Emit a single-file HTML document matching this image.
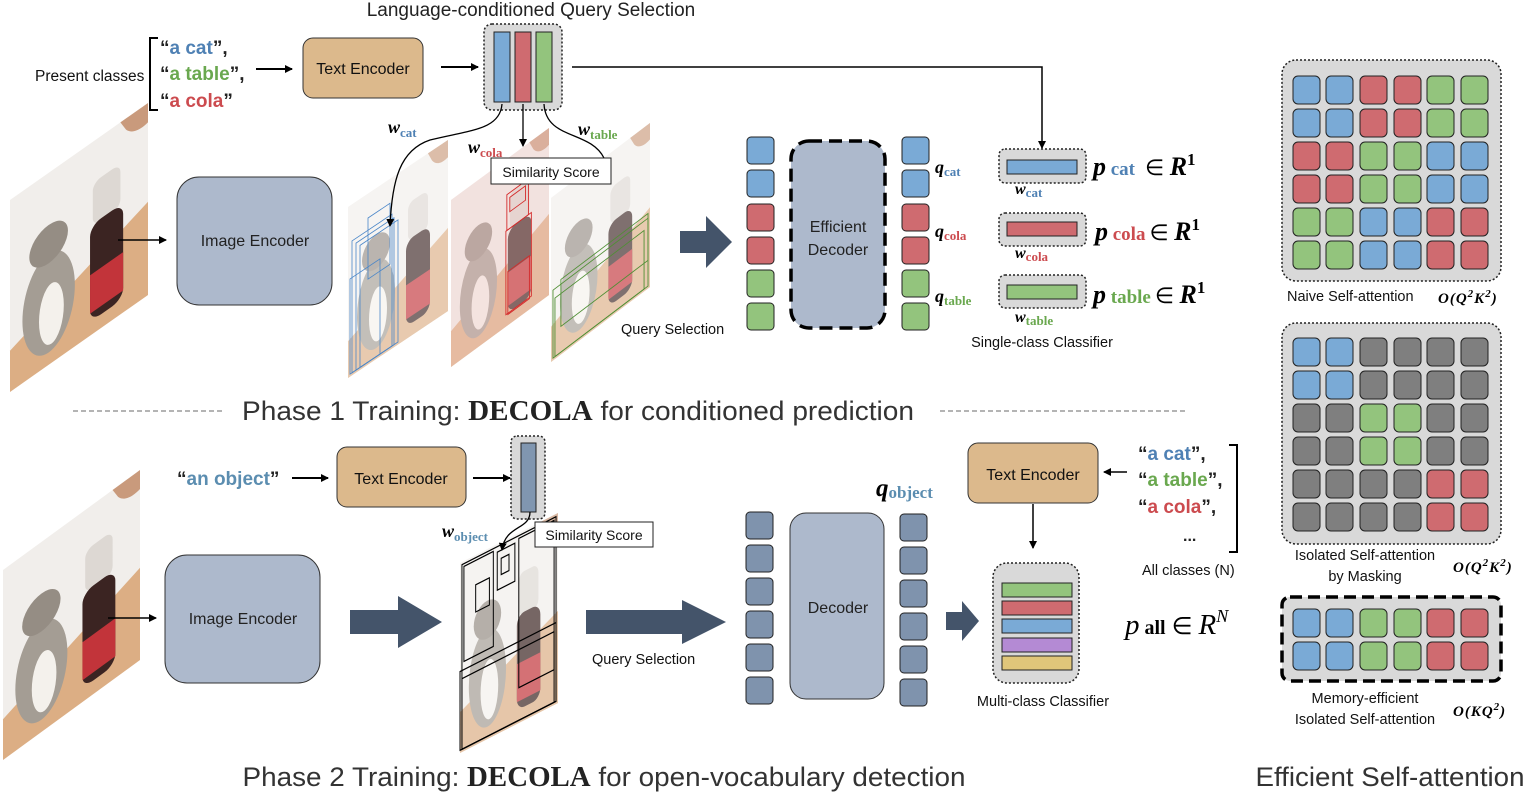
<!DOCTYPE html>
<html><head><meta charset="utf-8"><style>
html,body{margin:0;padding:0;background:#fff;}
svg{display:block;font-family:"Liberation Sans",sans-serif;}
.s{font-family:"Liberation Serif",serif;font-weight:bold;}
</style></head><body>
<svg width="1527" height="793" viewBox="0 0 1527 793" xmlns="http://www.w3.org/2000/svg">
<defs>
<marker id="ar" markerWidth="8" markerHeight="8" refX="7" refY="4" orient="auto" markerUnits="userSpaceOnUse"><path d="M0,0 L8,4 L0,8 z" fill="#000"/></marker>
<g id="photo">
<rect x="0" y="0" width="100" height="140" fill="#f1eeeb"/>
<polygon points="0,110 100,72 100,140 0,140" fill="#dcae84"/>
<path d="M80,0 L100,0 L100,14 C94,16 88,14 84,8 z" fill="#c99a7c"/>
<ellipse cx="28" cy="95" rx="19" ry="36" fill="#a49d94"/>
<ellipse cx="30" cy="104" rx="9" ry="22" fill="#f4f1ec"/>
<circle cx="28" cy="52" r="14" fill="#958d84"/>
<rect x="60" y="30" width="20" height="32" rx="6" fill="#ddd8d3"/>
<rect x="58" y="60" width="24" height="70" rx="8" fill="#3b2422"/>
<rect x="58" y="96" width="24" height="28" fill="#c2343a"/>
</g>
</defs>

<text x="531" y="16" font-size="19" text-anchor="middle" fill="#222">Language-conditioned Query Selection</text>

<text x="35" y="81" font-size="15.5" fill="#111">Present classes</text>
<path d="M158,38 L150,38 L150,110 L158,110" fill="none" stroke="#000" stroke-width="2"/>
<text x="160" y="54" font-size="19" font-weight="bold"><tspan fill="#222">“</tspan><tspan fill="#4f81b4">a cat</tspan><tspan fill="#222">”,</tspan></text>
<text x="160" y="80" font-size="19" font-weight="bold"><tspan fill="#222">“</tspan><tspan fill="#6aa84f">a table</tspan><tspan fill="#222">”,</tspan></text>
<text x="160" y="107" font-size="19" font-weight="bold"><tspan fill="#222">“</tspan><tspan fill="#cc4b4f">a cola</tspan><tspan fill="#222">”</tspan></text>
<line x1="256" y1="69" x2="292" y2="69" stroke="#000" stroke-width="2" marker-end="url(#ar)"/>
<rect x="303" y="38" width="120" height="60" rx="10" fill="#dcb98c" stroke="#333" stroke-width="1"/>
<text x="363" y="74" font-size="16" text-anchor="middle" fill="#111">Text Encoder</text>
<line x1="441" y1="67" x2="478" y2="67" stroke="#000" stroke-width="2" marker-end="url(#ar)"/>
<rect x="484" y="24" width="78" height="86" rx="8" fill="#d9d9d9" stroke="#222" stroke-width="1.5" stroke-dasharray="2,2"/>
<rect x="494" y="32" width="16" height="70" fill="#7aaad6" stroke="#222"/>
<rect x="515" y="32" width="16" height="70" fill="#cf6b70" stroke="#222"/>
<rect x="536" y="32" width="16" height="70" fill="#93c47d" stroke="#222"/>
<polyline points="572,67 1042,67 1042,148" fill="none" stroke="#000" stroke-width="1.5" marker-end="url(#ar)"/>

<use href="#photo" transform="matrix(1.38,-0.97,0,1.371,10,200)"/>
<line x1="118" y1="240" x2="166" y2="240" stroke="#000" stroke-width="1.5" marker-end="url(#ar)"/>
<rect x="177" y="177" width="155" height="128" rx="22" fill="#adb9cc" stroke="#333" stroke-width="1"/>
<text x="255" y="246" font-size="16" text-anchor="middle" fill="#222">Image Encoder</text>

<use href="#photo" transform="matrix(1,-0.67,0,1.221,348,207)"/>
<polygon points="348,207 448,140 448,311 348,378" fill="#fff" opacity="0.35"/>
<g transform="matrix(1,-0.67,0,1.221,348,207)" fill="none" stroke="#4a86c8" stroke-width="0.8">
<rect x="4" y="30" width="40" height="108"/><rect x="8" y="34" width="38" height="104"/><rect x="12" y="38" width="38" height="100"/><rect x="20" y="20" width="22" height="50"/><rect x="2" y="60" width="30" height="78"/>
</g>
<use href="#photo" transform="matrix(0.98,-0.72,0,1.193,451,200)"/>
<polygon points="451,200 549,128 549,295 451,367" fill="#f4d0cc" opacity="0.4"/>
<g transform="matrix(0.98,-0.72,0,1.193,451,200)" fill="none" stroke="#d42a2a" stroke-width="0.9">
<rect x="56" y="60" width="26" height="70"/><rect x="58" y="95" width="22" height="36"/><rect x="57" y="30" width="22" height="30"/><rect x="60" y="34" width="16" height="12"/>
</g>
<use href="#photo" transform="matrix(0.99,-0.75,0,1.171,551,198)"/>
<polygon points="551,198 650,123 650,287 551,362" fill="#fff" opacity="0.35"/>
<g transform="matrix(0.99,-0.75,0,1.171,551,198)" fill="none" stroke="#4f8f34" stroke-width="0.9">
<rect x="2" y="80" width="96" height="58"/><rect x="4" y="88" width="90" height="50"/><rect x="10" y="76" width="88" height="40"/>
</g>

<path d="M502,104 C500,130 470,130 430,140 C400,150 392,180 390,226" fill="none" stroke="#000" stroke-width="1.3" marker-end="url(#ar)"/>
<line x1="523" y1="104" x2="523" y2="146" stroke="#000" stroke-width="1.3" marker-end="url(#ar)"/>
<path d="M544,104 C546,140 590,130 604,158" fill="none" stroke="#000" stroke-width="1.3"/>
<text x="388" y="133" class="s" font-size="18" font-style="italic">w<tspan font-size="13" fill="#4f81b4" font-style="normal" dy="4">cat</tspan></text>
<text x="468" y="153" class="s" font-size="18" font-style="italic">w<tspan font-size="13" fill="#cc4b4f" font-style="normal" dy="4">cola</tspan></text>
<text x="578" y="135" class="s" font-size="18" font-style="italic">w<tspan font-size="13" fill="#6aa84f" font-style="normal" dy="4">table</tspan></text>
<rect x="491" y="158" width="120" height="26" fill="#fff" stroke="#222"/>
<text x="551" y="177" font-size="14" text-anchor="middle" fill="#111">Similarity Score</text>

<text x="621" y="334" font-size="14.5" fill="#111">Query Selection</text>
<polygon points="680,231 706,231 706,216 732,242 706,268 706,253 680,253" fill="#44546a"/>

<g stroke="#222" stroke-width="1">
<rect x="747" y="137" width="27" height="27" rx="4" fill="#7aaad6"/>
<rect x="747" y="170" width="27" height="27" rx="4" fill="#7aaad6"/>
<rect x="747" y="204" width="27" height="27" rx="4" fill="#cf6b70"/>
<rect x="747" y="237" width="27" height="27" rx="4" fill="#cf6b70"/>
<rect x="747" y="270" width="27" height="27" rx="4" fill="#93c47d"/>
<rect x="747" y="303" width="27" height="27" rx="4" fill="#93c47d"/>
<rect x="902" y="137" width="27" height="27" rx="4" fill="#7aaad6"/>
<rect x="902" y="170" width="27" height="27" rx="4" fill="#7aaad6"/>
<rect x="902" y="204" width="27" height="27" rx="4" fill="#cf6b70"/>
<rect x="902" y="237" width="27" height="27" rx="4" fill="#cf6b70"/>
<rect x="902" y="270" width="27" height="27" rx="4" fill="#93c47d"/>
<rect x="902" y="303" width="27" height="27" rx="4" fill="#93c47d"/>
</g>
<rect x="791" y="141" width="94" height="187" rx="18" fill="#adb9cc" stroke="#000" stroke-width="3.5" stroke-dasharray="13,7"/>
<text x="838" y="232" font-size="16" text-anchor="middle" fill="#222">Efficient</text>
<text x="838" y="255" font-size="16" text-anchor="middle" fill="#222">Decoder</text>
<text x="935" y="173" class="s" font-size="18" font-style="italic">q<tspan font-size="13" fill="#4f81b4" font-style="normal" dy="3">cat</tspan></text>
<text x="935" y="237" class="s" font-size="18" font-style="italic">q<tspan font-size="13" fill="#cc4b4f" font-style="normal" dy="3">cola</tspan></text>
<text x="935" y="302" class="s" font-size="18" font-style="italic">q<tspan font-size="13" fill="#6aa84f" font-style="normal" dy="3">table</tspan></text>

<g>
<rect x="999" y="149" width="87" height="34" rx="6" fill="#d9d9d9" stroke="#222" stroke-width="1.5" stroke-dasharray="2,2"/>
<rect x="1007" y="160" width="70" height="14" fill="#7aaad6" stroke="#222"/>
<rect x="999" y="213" width="87" height="33" rx="6" fill="#d9d9d9" stroke="#222" stroke-width="1.5" stroke-dasharray="2,2"/>
<rect x="1007" y="222" width="70" height="14" fill="#cf6b70" stroke="#222"/>
<rect x="999" y="275" width="87" height="33" rx="6" fill="#d9d9d9" stroke="#222" stroke-width="1.5" stroke-dasharray="2,2"/>
<rect x="1007" y="285" width="70" height="14" fill="#93c47d" stroke="#222"/>
</g>
<text x="1015" y="194" class="s" font-size="16" font-style="italic">w<tspan font-size="13" fill="#4f81b4" font-style="normal" dy="3">cat</tspan></text>
<text x="1015" y="258" class="s" font-size="16" font-style="italic">w<tspan font-size="13" fill="#cc4b4f" font-style="normal" dy="3">cola</tspan></text>
<text x="1015" y="322" class="s" font-size="16" font-style="italic">w<tspan font-size="13" fill="#6aa84f" font-style="normal" dy="3">table</tspan></text>
<text x="1093" y="175" class="s" font-size="26" font-style="italic">p<tspan font-size="19" fill="#4f81b4" font-style="normal"> cat</tspan><tspan font-size="22" font-style="normal" font-weight="normal" dx="10">∈ </tspan><tspan font-style="italic">R</tspan><tspan font-size="17" dy="-10" font-style="normal">1</tspan></text>
<text x="1095" y="240" class="s" font-size="26" font-style="italic">p<tspan font-size="19" fill="#cc4b4f" font-style="normal"> cola</tspan><tspan font-size="22" font-style="normal" font-weight="normal" dx="4">∈ </tspan><tspan font-style="italic">R</tspan><tspan font-size="17" dy="-10" font-style="normal">1</tspan></text>
<text x="1093" y="303" class="s" font-size="26" font-style="italic">p<tspan font-size="19" fill="#6aa84f" font-style="normal"> table</tspan><tspan font-size="22" font-style="normal" font-weight="normal" dx="4">∈ </tspan><tspan font-style="italic">R</tspan><tspan font-size="17" dy="-10" font-style="normal">1</tspan></text>
<text x="1042" y="347" font-size="14.5" text-anchor="middle" fill="#111">Single-class Classifier</text>

<line x1="73" y1="411" x2="222" y2="411" stroke="#888" stroke-width="1.2" stroke-dasharray="5,3"/>
<line x1="940" y1="411" x2="1185" y2="411" stroke="#888" stroke-width="1.2" stroke-dasharray="5,3"/>
<text x="578" y="420" font-size="27" text-anchor="middle" fill="#333" textLength="672" lengthAdjust="spacingAndGlyphs">Phase 1 Training: <tspan class="s" font-size="28" fill="#222">DECOLA</tspan> for conditioned prediction</text>

<text x="177" y="485" font-size="19" font-weight="bold"><tspan fill="#222">“</tspan><tspan fill="#5b8db0">an object</tspan><tspan fill="#222">”</tspan></text>
<line x1="292" y1="478" x2="328" y2="478" stroke="#000" stroke-width="2" marker-end="url(#ar)"/>
<rect x="337" y="447" width="129" height="60" rx="10" fill="#dcb98c" stroke="#333"/>
<text x="401" y="484" font-size="16" text-anchor="middle" fill="#111">Text Encoder</text>
<line x1="473" y1="478" x2="510" y2="478" stroke="#000" stroke-width="2" marker-end="url(#ar)"/>
<rect x="511" y="436" width="34" height="83" rx="6" fill="#d9d9d9" stroke="#222" stroke-width="1.5" stroke-dasharray="2,2"/>
<rect x="521" y="443" width="15" height="69" fill="#8096b0" stroke="#222"/>

<use href="#photo" transform="matrix(1.37,-1.0,0,1.357,3,570)"/>
<line x1="108" y1="618" x2="156" y2="618" stroke="#000" stroke-width="1.5" marker-end="url(#ar)"/>
<rect x="165" y="555" width="155" height="128" rx="22" fill="#adb9cc" stroke="#333"/>
<text x="243" y="624" font-size="16" text-anchor="middle" fill="#222">Image Encoder</text>
<polygon points="350,610 398,610 398,596 442,622 398,648 398,634 350,634" fill="#44546a"/>

<use href="#photo" transform="matrix(0.98,-0.5,0,1.357,460,563)"/>
<polygon points="460,563 558,513 558,703 460,753" fill="#fff" opacity="0.3"/>
<g transform="matrix(0.98,-0.5,0,1.357,460,563)" fill="none" stroke="#000" stroke-width="1">
<rect x="4" y="4" width="30" height="70"/><rect x="16" y="22" width="14" height="20"/><rect x="38" y="6" width="18" height="28"/><rect x="42" y="12" width="8" height="12"/>
<rect x="0" y="80" width="98" height="58"/><rect x="2" y="86" width="94" height="52"/><rect x="60" y="4" width="36" height="110"/><rect x="2" y="2" width="96" height="136"/>
</g>
<path d="M530,512 C530,530 505,525 502,550" fill="none" stroke="#000" stroke-width="1.3" marker-end="url(#ar)"/>
<text x="442" y="537" class="s" font-size="18" font-style="italic">w<tspan font-size="13" fill="#5b8db0" font-style="normal" dy="4">object</tspan></text>
<rect x="535" y="522" width="118" height="25" fill="#fff" stroke="#222"/>
<text x="594" y="540" font-size="14" text-anchor="middle" fill="#111">Similarity Score</text>

<polygon points="586,610 682,610 682,600 726,622 682,644 682,634 586,634" fill="#44546a"/>
<text x="592" y="664" font-size="14.5" fill="#111">Query Selection</text>

<g stroke="#222" fill="#7f93ad">
<rect x="746" y="512" width="27" height="27" rx="4"/><rect x="746" y="545" width="27" height="27" rx="4"/><rect x="746" y="578" width="27" height="27" rx="4"/><rect x="746" y="611" width="27" height="27" rx="4"/><rect x="746" y="644" width="27" height="27" rx="4"/><rect x="746" y="677" width="27" height="27" rx="4"/>
<rect x="900" y="514" width="27" height="27" rx="4"/><rect x="900" y="547" width="27" height="27" rx="4"/><rect x="900" y="580" width="27" height="27" rx="4"/><rect x="900" y="613" width="27" height="27" rx="4"/><rect x="900" y="646" width="27" height="27" rx="4"/><rect x="900" y="679" width="27" height="27" rx="4"/>
</g>
<rect x="790" y="513" width="94" height="186" rx="16" fill="#adb9cc" stroke="#333"/>
<text x="838" y="613" font-size="16" text-anchor="middle" fill="#222">Decoder</text>
<text x="876" y="496" class="s" font-size="25" font-style="italic">q<tspan font-size="17" fill="#5b8db0" font-style="normal" dy="2">object</tspan></text>

<rect x="968" y="443" width="130" height="60" rx="10" fill="#dcb98c" stroke="#333"/>
<text x="1033" y="480" font-size="16" text-anchor="middle" fill="#111">Text Encoder</text>
<line x1="1127" y1="472" x2="1104" y2="472" stroke="#000" stroke-width="1.5" marker-end="url(#ar)"/>
<text x="1138" y="460" font-size="19" font-weight="bold"><tspan fill="#222">“</tspan><tspan fill="#4f81b4">a cat</tspan><tspan fill="#222">”,</tspan></text>
<text x="1138" y="486" font-size="19" font-weight="bold"><tspan fill="#222">“</tspan><tspan fill="#6aa84f">a table</tspan><tspan fill="#222">”,</tspan></text>
<text x="1138" y="513" font-size="19" font-weight="bold"><tspan fill="#222">“</tspan><tspan fill="#cc4b4f">a cola</tspan><tspan fill="#222">”,</tspan></text>
<text x="1183" y="541" font-size="16" font-weight="bold" fill="#222">...</text>
<path d="M1229,445 L1237,445 L1237,552 L1229,552" fill="none" stroke="#000" stroke-width="2"/>
<text x="1142" y="575" font-size="14.5" fill="#111">All classes (N)</text>
<line x1="1033" y1="504" x2="1033" y2="548" stroke="#000" stroke-width="1.5" marker-end="url(#ar)"/>
<rect x="993" y="563" width="86" height="120" rx="14" fill="#d9d9d9" stroke="#222" stroke-width="1.5" stroke-dasharray="2,2"/>
<g stroke="#222">
<rect x="1002" y="583" width="70" height="14" fill="#93c47d"/>
<rect x="1002" y="601" width="70" height="14" fill="#cf6b70"/>
<rect x="1002" y="619" width="70" height="14" fill="#7aaad6"/>
<rect x="1002" y="638" width="70" height="14" fill="#b48ad4"/>
<rect x="1002" y="656" width="70" height="14" fill="#e0c67a"/>
</g>
<polygon points="946,612 962,612 962,601 979,621 962,641 962,630 946,630" fill="#44546a"/>
<text x="1043" y="706" font-size="14.5" text-anchor="middle" fill="#111">Multi-class Classifier</text>
<text x="1125" y="634" font-family="Liberation Serif,serif" font-size="29" font-style="italic">p<tspan class="s" font-size="20" font-style="normal"> all</tspan><tspan font-style="normal" font-size="24" dx="6">∈ </tspan>R<tspan font-size="18" dy="-12">N</tspan></text>

<text x="604" y="786" font-size="27" text-anchor="middle" fill="#333" textLength="723" lengthAdjust="spacingAndGlyphs">Phase 2 Training: <tspan class="s" font-size="28" fill="#222">DECOLA</tspan> for open-vocabulary detection</text>

<rect x="1282" y="60" width="219" height="221" rx="14" fill="#d9d9d9" stroke="#222" stroke-width="1.5" stroke-dasharray="2,2"/>
<rect x="1282" y="323" width="219" height="221" rx="14" fill="#d9d9d9" stroke="#222" stroke-width="1.5" stroke-dasharray="2,2"/>
<rect x="1282" y="597" width="219" height="84" rx="8" fill="#d9d9d9" stroke="#000" stroke-width="3.5" stroke-dasharray="12,6"/>
<g stroke="#222" stroke-width="1">
<g fill="#7aaad6"><rect x="1293" y="76" width="27" height="28" rx="5"/><rect x="1326" y="76" width="27" height="28" rx="5"/><rect x="1293" y="109" width="27" height="28" rx="5"/><rect x="1326" y="109" width="27" height="28" rx="5"/>
<rect x="1427" y="142" width="27" height="28" rx="5"/><rect x="1461" y="142" width="27" height="28" rx="5"/><rect x="1427" y="175" width="27" height="28" rx="5"/><rect x="1461" y="175" width="27" height="28" rx="5"/>
<rect x="1360" y="208" width="27" height="28" rx="5"/><rect x="1394" y="208" width="27" height="28" rx="5"/><rect x="1360" y="241" width="27" height="28" rx="5"/><rect x="1394" y="241" width="27" height="28" rx="5"/></g>
<g fill="#cf6b70"><rect x="1360" y="76" width="27" height="28" rx="5"/><rect x="1394" y="76" width="27" height="28" rx="5"/><rect x="1360" y="109" width="27" height="28" rx="5"/><rect x="1394" y="109" width="27" height="28" rx="5"/>
<rect x="1293" y="142" width="27" height="28" rx="5"/><rect x="1326" y="142" width="27" height="28" rx="5"/><rect x="1293" y="175" width="27" height="28" rx="5"/><rect x="1326" y="175" width="27" height="28" rx="5"/>
<rect x="1427" y="208" width="27" height="28" rx="5"/><rect x="1461" y="208" width="27" height="28" rx="5"/><rect x="1427" y="241" width="27" height="28" rx="5"/><rect x="1461" y="241" width="27" height="28" rx="5"/></g>
<g fill="#93c47d"><rect x="1427" y="76" width="27" height="28" rx="5"/><rect x="1461" y="76" width="27" height="28" rx="5"/><rect x="1427" y="109" width="27" height="28" rx="5"/><rect x="1461" y="109" width="27" height="28" rx="5"/>
<rect x="1360" y="142" width="27" height="28" rx="5"/><rect x="1394" y="142" width="27" height="28" rx="5"/><rect x="1360" y="175" width="27" height="28" rx="5"/><rect x="1394" y="175" width="27" height="28" rx="5"/>
<rect x="1293" y="208" width="27" height="28" rx="5"/><rect x="1326" y="208" width="27" height="28" rx="5"/><rect x="1293" y="241" width="27" height="28" rx="5"/><rect x="1326" y="241" width="27" height="28" rx="5"/></g>
<g fill="#7f7f7f">
<rect x="1360" y="338" width="27" height="28" rx="5"/><rect x="1394" y="338" width="27" height="28" rx="5"/><rect x="1427" y="338" width="27" height="28" rx="5"/><rect x="1461" y="338" width="27" height="28" rx="5"/>
<rect x="1360" y="371" width="27" height="28" rx="5"/><rect x="1394" y="371" width="27" height="28" rx="5"/><rect x="1427" y="371" width="27" height="28" rx="5"/><rect x="1461" y="371" width="27" height="28" rx="5"/>
<rect x="1293" y="404" width="27" height="28" rx="5"/><rect x="1326" y="404" width="27" height="28" rx="5"/><rect x="1427" y="404" width="27" height="28" rx="5"/><rect x="1461" y="404" width="27" height="28" rx="5"/>
<rect x="1293" y="437" width="27" height="28" rx="5"/><rect x="1326" y="437" width="27" height="28" rx="5"/><rect x="1427" y="437" width="27" height="28" rx="5"/><rect x="1461" y="437" width="27" height="28" rx="5"/>
<rect x="1293" y="470" width="27" height="28" rx="5"/><rect x="1326" y="470" width="27" height="28" rx="5"/><rect x="1360" y="470" width="27" height="28" rx="5"/><rect x="1394" y="470" width="27" height="28" rx="5"/>
<rect x="1293" y="503" width="27" height="28" rx="5"/><rect x="1326" y="503" width="27" height="28" rx="5"/><rect x="1360" y="503" width="27" height="28" rx="5"/><rect x="1394" y="503" width="27" height="28" rx="5"/></g>
<g fill="#7aaad6"><rect x="1293" y="338" width="27" height="28" rx="5"/><rect x="1326" y="338" width="27" height="28" rx="5"/><rect x="1293" y="371" width="27" height="28" rx="5"/><rect x="1326" y="371" width="27" height="28" rx="5"/></g>
<g fill="#93c47d"><rect x="1360" y="404" width="27" height="28" rx="5"/><rect x="1394" y="404" width="27" height="28" rx="5"/><rect x="1360" y="437" width="27" height="28" rx="5"/><rect x="1394" y="437" width="27" height="28" rx="5"/></g>
<g fill="#cf6b70"><rect x="1427" y="470" width="27" height="28" rx="5"/><rect x="1461" y="470" width="27" height="28" rx="5"/><rect x="1427" y="503" width="27" height="28" rx="5"/><rect x="1461" y="503" width="27" height="28" rx="5"/></g>
<g fill="#7aaad6"><rect x="1293" y="609" width="27" height="28" rx="5"/><rect x="1326" y="609" width="27" height="28" rx="5"/><rect x="1293" y="642" width="27" height="28" rx="5"/><rect x="1326" y="642" width="27" height="28" rx="5"/></g>
<g fill="#93c47d"><rect x="1360" y="609" width="27" height="28" rx="5"/><rect x="1394" y="609" width="27" height="28" rx="5"/><rect x="1360" y="642" width="27" height="28" rx="5"/><rect x="1394" y="642" width="27" height="28" rx="5"/></g>
<g fill="#cf6b70"><rect x="1427" y="609" width="27" height="28" rx="5"/><rect x="1461" y="609" width="27" height="28" rx="5"/><rect x="1427" y="642" width="27" height="28" rx="5"/><rect x="1461" y="642" width="27" height="28" rx="5"/></g>
</g>
<text x="1287" y="301" font-size="14.5" fill="#111">Naive Self-attention</text>
<text x="1438" y="303" class="s" font-size="15" font-style="italic" letter-spacing="1">O(Q<tspan font-size="11" dy="-6">2</tspan><tspan dy="6">K</tspan><tspan font-size="11" dy="-6">2</tspan><tspan dy="6">)</tspan></text>
<text x="1365" y="560" font-size="14.5" text-anchor="middle" fill="#111">Isolated Self-attention</text>
<text x="1365" y="581" font-size="14.5" text-anchor="middle" fill="#111">by Masking</text>
<text x="1453" y="572" class="s" font-size="15" font-style="italic" letter-spacing="1">O(Q<tspan font-size="11" dy="-6">2</tspan><tspan dy="6">K</tspan><tspan font-size="11" dy="-6">2</tspan><tspan dy="6">)</tspan></text>
<text x="1365" y="703" font-size="14.5" text-anchor="middle" fill="#111">Memory-efficient</text>
<text x="1365" y="724" font-size="14.5" text-anchor="middle" fill="#111">Isolated Self-attention</text>
<text x="1453" y="716" class="s" font-size="15" font-style="italic" letter-spacing="1">O(KQ<tspan font-size="11" dy="-6">2</tspan><tspan dy="6">)</tspan></text>
<text x="1390" y="786" font-size="27" text-anchor="middle" fill="#333" textLength="269" lengthAdjust="spacingAndGlyphs">Efficient Self-attention</text>
</svg>
</body></html>
